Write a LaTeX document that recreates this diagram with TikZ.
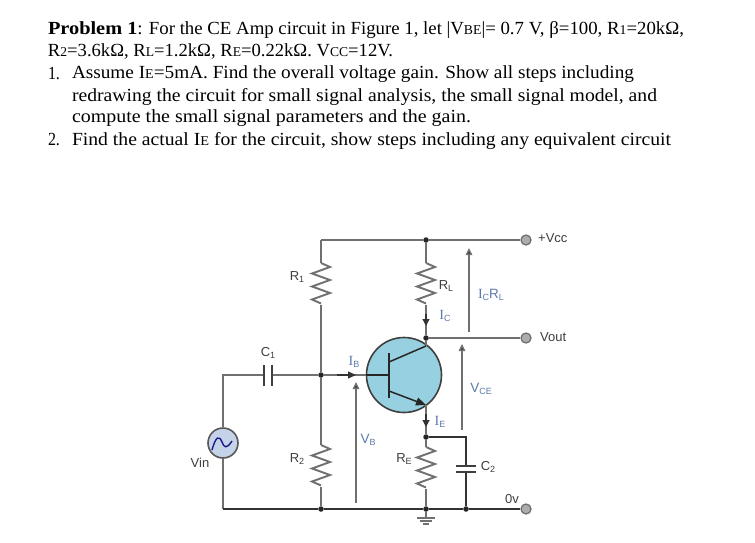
\documentclass[tikz,border=0pt]{standalone}
\usepackage{fontspec}
\usepackage{graphicx}
\setmainfont{Liberation Serif}
\setsansfont{Liberation Sans}
\usetikzlibrary{arrows.meta}
\newcommand{\sm}[1]{{\fontsize{13.5}{14}\selectfont #1}}
\newcommand{\fitline}[3]{\resizebox{#1pt}{\height}{#3}}
\newcommand{\lb}[1]{\textrm{\fontsize{14}{14}\selectfont #1}}
\newcommand{\sbs}[1]{\raisebox{-1.5pt}{\fontsize{9}{9}\selectfont #1}}
\newcommand{\resis}[1]{\draw[wire] (#1) -- ++(9,4) -- ++(-18,6.5) -- ++(18,6.5) -- ++(-18,6.5) -- ++(18,6.5) -- ++(-18,6.5) -- ++(9,4);}
\definecolor{wirec}{HTML}{707070}
\definecolor{lblue}{HTML}{5C7AAE}
\definecolor{ldark}{HTML}{3E3E3E}
\tikzset{
  wire/.style={draw=wirec,line width=1.9pt,line join=miter},
  thinwire/.style={draw=black!80,line width=1.1pt},
  plate/.style={draw=ldark,line width=1.6pt},
  dotn/.style={circle,fill=black!85,inner sep=0pt,minimum size=5.5pt},
  term/.style={circle,draw=wirec,line width=1.3pt,fill=black!32,inner sep=0pt,minimum size=10pt},
  varrow/.style={draw=wirec,line width=1.5pt,-{Triangle[length=7pt,width=6.5pt,fill=black!85]}},
  textline/.style={anchor=base west,inner sep=0pt,outer sep=0pt,font=\fontsize{18.5}{20}\selectfont,text=black},
  dlab/.style={inner sep=0pt,font=\sffamily\fontsize{13}{14}\selectfont,text=ldark},
  blab/.style={inner sep=0pt,text=lblue,font=\sffamily\fontsize{13.5}{14}\selectfont},
  bjt/.style={circle,draw=black!75,line width=1.6pt,inner sep=0pt,minimum size=75pt},
  src/.style={circle,draw=black!65,line width=1.6pt,inner sep=0pt,minimum size=30pt}
}
\definecolor{bjtfill}{HTML}{97D1E1}
\definecolor{srcfill}{HTML}{C5D3E8}
\begin{document}
\begin{tikzpicture}[x=1pt,y=-1pt]
\useasboundingbox[fill=white] (0,0) rectangle (755,543);
% text
\node[textline] (t1) at (48,35) {\fitline{636}{}{\resizebox{88pt}{\height}{\textbf{Problem 1}}: For the CE Amp circuit in Figure 1, let |V\sm{BE}|= 0.7 V, β=100, R\sm{1}=20kΩ,}};
\node[textline] (t2) at (48,57) {\fitline{345}{}{R\sm{2}=3.6kΩ, R\sm{L}=1.2kΩ, R\sm{E}=0.22kΩ. V\sm{CC}=12V.}};
\node[textline] (n1) at (48,79) {\fitline{12}{}{1.}};
\node[textline] (t3) at (72,79) {\fitline{562}{}{Assume I\sm{E}=5mA. Find the overall voltage gain. Show all steps including}};
\node[textline] (t4) at (72,101) {\fitline{585}{}{redrawing the circuit for small signal analysis, the small signal model, and}};
\node[textline] (t5) at (72,123) {\fitline{399}{}{compute the small signal parameters and the gain.}};
\node[textline] (n2) at (48,145) {\fitline{12}{}{2.}};
\node[textline] (t6) at (72,145) {\fitline{599}{}{Find the actual I\sm{E} for the circuit, show steps including any equivalent circuit}};
% coordinates
\coordinate (tl) at (321,240);
\coordinate (r1a) at (321,263);
\coordinate (r1b) at (321,305);
\coordinate (r2a) at (321,445);
\coordinate (r2b) at (321,487);
\coordinate (rla) at (426,263);
\coordinate (rlb) at (426,305);
\coordinate (rea) at (426,447);
\coordinate (reb) at (426,489);
\coordinate (inl) at (223,375);
\coordinate (botl) at (223,509);
\coordinate (c1a) at (264,375);
\coordinate (c1b) at (272,375);
\coordinate (basebar) at (389,375);
\coordinate (cbar) at (389,362);
\coordinate (ebar) at (389,391);
\coordinate (cout) at (426,346);
\coordinate (eout) at (426,405);
\coordinate (c2r) at (466,437);
\coordinate (c2t) at (466,466);
\coordinate (c2b) at (466,472);
\coordinate (gnd) at (426,518);
% transistor body
\node[bjt,fill=bjtfill] (q) at (404,375) {};
\node[src,fill=srcfill] (vs) at (223,443) {};
% nodes
\node[dotn] (jtop) at (426,240) {};
\node[dotn] (jb) at (321,375) {};
\node[dotn] (jbot) at (321,509) {};
\node[dotn] (jc) at (426,338) {};
\node[dotn] (je) at (426,437) {};
\node[dotn] (jg) at (426,509) {};
\node[dotn] (jc2) at (466,509) {};
\node[term] (vcc) at (526,240) {};
\node[term] (vout) at (526,338) {};
\node[term] (ov) at (526,509) {};
% wires
\draw[wire] (tl) -- (jtop) -- (vcc);
\draw[wire] (tl) -- (r1a);
\resis{r1a}
\draw[wire] (r1b) -- (jb);
\draw[wire] (jb) -- (r2a);
\resis{r2a}
\draw[wire] (r2b) -- (jbot);
\draw[wire] (vs) -- (inl) -- (c1a);
\draw[wire] (c1b) -- (jb) -- (q.west);
\draw[wire] (vs) -- (botl);
\draw[thinwire] (botl) -- (jbot) -- (jg) -- (jc2) -- (ov);
\draw[wire] (jtop) -- (rla);
\resis{rla}
\draw[wire] (rlb) -- (jc);
\draw[wire] (jc) -- (vout);
\draw[wire] (jc) -- (cout);
\draw[wire] (eout) -- (je);
\draw[wire] (je) -- (rea);
\resis{rea}
\draw[wire] (reb) -- (jg) -- (gnd);
\draw[thinwire] (je) -- (c2r) -- (c2t);
\draw[thinwire] (c2b) -- (jc2);
% capacitor plates
\draw[plate] (264,365) -- (264,386);
\draw[plate] (272,365) -- (272,386);
\draw[plate] (456,466) -- (476,466);
\draw[plate] (456,472) -- (476,472);
% transistor internals
\draw[draw=black!85,line width=1.5pt] (q.west) -- (basebar);
\draw[draw=black!85,line width=1.6pt] (389,353) -- (389,398);
\draw[draw=black!85,line width=1.5pt] (cbar) -- (cout);
\draw[draw=black!85,line width=1.5pt,-{Triangle[length=10pt,width=8pt]}] (ebar) -- (eout);
% ground
\draw[draw=wirec,line width=1.2pt] (417,518) -- (435,518);
\draw[draw=wirec,line width=1.2pt] (420,521) -- (432,521);
\draw[draw=wirec,line width=1.2pt] (423,524) -- (429,524);
% sine
\draw[draw=blue!50!black!90,line width=1.4pt] (212,450) .. controls (216,436) and (219,435) .. (222,442) .. controls (224,447) and (226,450) .. (232,441);
% current arrows
\draw[draw=black!80,line width=1.1pt,-{Triangle[length=8pt,width=7pt]}] (337,375) -- (356,375);
\draw[draw=black!80,line width=1.1pt,-{Triangle[length=7pt,width=7pt]}] (426,314) -- (426,326);
\draw[draw=black!80,line width=1.1pt,-{Triangle[length=7pt,width=7pt]}] (426,414) -- (426,427);
% voltage arrows
\draw[varrow] (356,503) -- (356,382);
\draw[varrow] (469,332) -- (469,248);
\draw[varrow] (462,430) -- (462,344);
% labels
\node[dlab] (lr1) at (297,277) {R\sbs{1}};
\node[dlab] (lr2) at (297,459) {R\sbs{2}};
\node[dlab] (lrl) at (446,286) {R\sbs{L}};
\node[dlab] (lre) at (404,459) {R\sbs{E}};
\node[dlab] (lc1) at (268,353) {C\sbs{1}};
\node[dlab] (lc2) at (488,467) {C\sbs{2}};
\node[blab] (lib) at (354,362) {\lb{I}\sbs{B}};
\node[blab] (lvb) at (368,440) {V\sbs{B}};
\node[blab] (lic) at (445,316) {\lb{I}\sbs{C}};
\node[blab] (lie) at (440,422) {\lb{I}\sbs{E}};
\node[blab] (lvce) at (481,389) {V\sbs{CE}};
\node[blab] (licrl) at (491,295) {\lb{I}\sbs{C}R\sbs{L}};
\node[dlab,anchor=west] (lvcc) at (538,238) {+Vcc};
\node[dlab,anchor=west] (lvout) at (540,337) {Vout};
\node[dlab] (lov) at (512,499) {0v};
\node[dlab] (lvin) at (200,463) {Vin};
\end{tikzpicture}
\end{document}
